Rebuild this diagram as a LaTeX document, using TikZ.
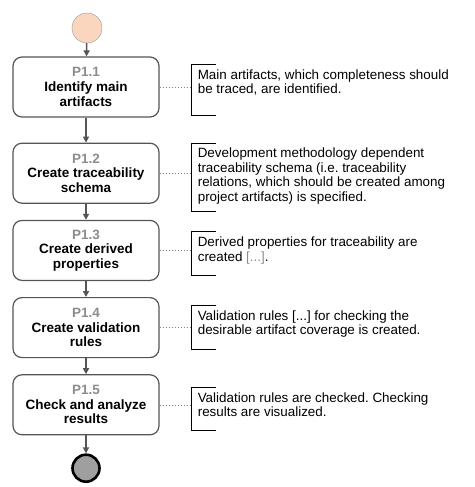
\documentclass[tikz,border=0pt]{standalone}
\usepackage{fontspec}
\setmainfont{Liberation Sans}
\usetikzlibrary{arrows.meta, positioning}
\frenchspacing

\definecolor{startfill}{HTML}{FAD6BE}
\definecolor{linegray}{HTML}{555555}
\definecolor{idgray}{HTML}{8C8C8C}

\begin{document}
\begin{tikzpicture}[
            x = 1pt, y = -1pt, % one unit per pixel, y going down
            > = {Triangle[length=6pt, width=6pt]}, % arrow head style
            every edge/.style = {draw = linegray, line width = 1.5pt},
            node distance = 16pt
        ]

        \tikzstyle{proc}=[
            draw = linegray,
            line width = 1.2pt,
            rounded corners = 9pt,
            minimum width = 146pt,
            minimum height = 60pt,
            align = center,
            font = \bfseries\fontsize{13.5}{14.6}\selectfont
        ]
        \tikzstyle{brk}=[
            minimum width = 24pt,
            inner sep = 0pt
        ]
        \tikzstyle{note}=[
            anchor = north west,
            align = left,
            inner xsep = 6pt,
            inner ysep = 5pt,
            font = \fontsize{13.4}{14.5}\selectfont
        ]
        \tikzstyle{link}=[
            draw = gray,
            line width = 0.6pt,
            dash pattern = on 1.5pt off 1.5pt
        ]
        \newcommand{\pid}[1]{{\color{idgray}#1}}

        \useasboundingbox (0,0) rectangle (474,487);

	\node[circle, draw = gray!80, fill = startfill, minimum size = 30pt, inner sep = 0pt] (start) at (87,28) {};
	\node[proc] (p1) at (86,87) {\pid{P1.1}\\Identify main\\artifacts};
	\node[proc] (p2) [below=25pt of p1] {\pid{P1.2}\\Create traceability\\schema};
	\node[proc] (p3) [below=of p2] {\pid{P1.3}\\Create derived\\properties};
	\node[proc] (p4) [below=of p3] {\pid{P1.4}\\Create validation\\rules};
	\node[proc] (p5) [below=of p4] {\pid{P1.5}\\Check and analyze\\results};
	\node[circle, draw = black, line width = 2.6pt, fill = gray!75, minimum size = 27pt, inner sep = 0pt] (stop) [below=18pt of p5] {};

	% comment brackets
	\node[brk, minimum height = 51pt] (b1) [right=32pt of p1, yshift=-3pt] {};
	\node[brk, minimum height = 68pt] (b2) [right=32pt of p2, yshift=-4pt] {};
	\node[brk, minimum height = 43pt] (b3) [right=32pt of p3, yshift=-3pt] {};
	\node[brk, minimum height = 44pt] (b4) [right=32pt of p4] {};
	\node[brk, minimum height = 43pt] (b5) [right=32pt of p5, yshift=-4pt] {};

	\node[note] (n1) at (b1.north west) {Main artifacts, which completeness should\\be traced, are identified.};
	\node[note] (n2) at (b2.north west) {Development methodology dependent\\traceability schema (i.e. traceability\\relations, which should be created among\\project artifacts) is specified.};
	\node[note] (n3) at (b3.north west) {Derived properties for traceability are\\created {\color{idgray}[...]}.};
	\node[note] (n4) at (b4.north west) {Validation rules [...] for checking the\\desirable artifact coverage is created.};
	\node[note] (n5) at (b5.north west) {Validation rules are checked. Checking\\results are visualized.};

	\foreach \i in {1,...,5} {
	    \draw[line width = 1pt] (b\i.north east) -- (b\i.north west) -- (b\i.south west) -- (b\i.south east);
	    \draw[link] (p\i.east) -- (b\i.west |- p\i.east);
	}

        \path[->] (start) edge (p1);
        \path[->] (p1) edge (p2);
        \path[->] (p2) edge (p3);
        \path[->] (p3) edge (p4);
        \path[->] (p4) edge (p5);
        \path[->] (p5) edge (stop);

    \end{tikzpicture}
\end{document}
